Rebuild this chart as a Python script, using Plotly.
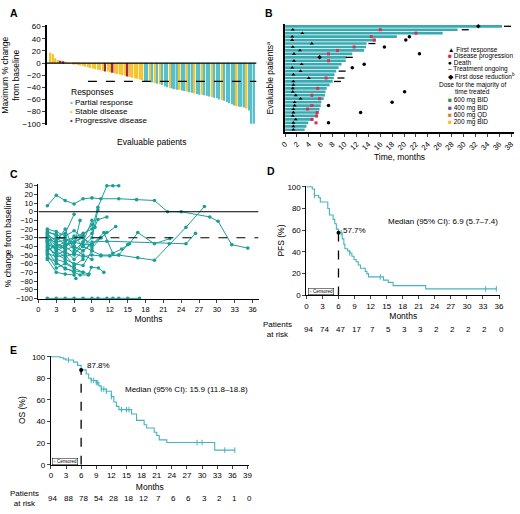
import numpy as np
import plotly.graph_objects as go

FONT = "Liberation Sans, Arial, sans-serif"
W, H = 520, 514

# ---------------- A: best % change from baseline (waterfall)
a_change = [17, 15, 8, 5, 4, 3, 2, 1, 0, -1,
            -2, -3, -4, -5, -6, -7, -8, -9, -10, -11,
            -12, -13, -14, -14, -15, -16, -17, -18, -19, -20,
            -21, -22, -23, -24, -25, -26, -27, -28, -30, -31,
            -31, -32, -33, -34, -35, -36, -38, -40, -41, -42,
            -43, -44, -44, -45, -46, -47, -48, -49, -50, -51,
            -52, -52, -53, -54, -55, -56, -57, -58, -60, -61,
            -62, -64, -66, -68, -70, -71, -72, -72, -73, -75,
            -78, -100, -100]
# R = partial response, S = stable disease, P = progressive disease
a_resp = list("SSSS" "PP" "SSSSSSSSSSSSSSSS" "P" "SS" "P" "SSSSS" "P" "SSSSSS"
              "RRSRSRS" "RRRS" "RRRS" "RRS" "RRS" "RRS" "RRRS" "RRRS" "RRRRRS" "RRRS" "RRR")
resp_codes = ["R", "S", "P"]
resp_labels = ["Partial response", "Stable disease", "Progressive disease"]
resp_colors = ["#55bfca", "#f5c431", "#a3233a"]

# ---------------- B: swimmer plot (rows listed top to bottom)
b_months = [36.5, 29.0, 26.5, 18.8, 15.3, 13.7, 13.6, 13.3, 11.3, 10.3, 10.2,
            9.5, 9.0, 8.6, 8.3, 8.2, 8.0, 7.5, 7.0, 6.8, 6.7, 6.5, 6.1, 6.0,
            5.8, 5.6, 5.5, 4.8, 3.9, 3.6, 3.3]
b_dose = ["g", "g", "g", "p", "g", "y", "g", "p", "g", "g", "p", "g", "g", "g", "p", "g",
          "g", "g", "o", "g", "p", "y", "g", "g", "g", "g", "g", "p", "g", "g", "g"]
dose_codes = ["g", "p", "o", "y"]
dose_labels = ["600 mg BID", "400 mg BID", "600 mg QD", "200 mg BID"]
dose_colors = ["#2f8f3a", "#6a4c9c", "#e07b2a", "#f0c020"]

resp_row = [1, 2, 3, 4, 5, 6, 7, 8, 10, 11, 12, 13, 14, 15, 16, 17, 18, 19, 20,
            21, 22, 23, 24, 25, 26, 27, 28, 29, 30]
resp_t = [1.3, 2.9, 1.2, 1.2, 4.5, 1.3, 2.5, 1.5, 1.5, 2.8, 1.2, 2.6, 1.4, 4.0, 1.4,
          1.4, 1.3, 1.3, 1.8, 2.6, 1.6, 1.6, 1.4, 1.4, 1.3, 1.8, 1.4, 1.4, 1.4]
prog_row = [1, 2, 3, 4, 6, 7, 8, 10, 15, 18, 20, 21, 23, 24, 25, 26, 27, 28]
prog_t = [16.0, 22.0, 14.5, 15.0, 11.6, 8.8, 7.3, 7.3, 6.9, 5.5, 4.5, 5.8, 4.5,
          3.8, 5.4, 5.3, 4.5, 5.2]
death_row = [3, 4, 6, 8, 11, 12, 19, 22, 23, 25, 28]
death_t = [20.9, 20.3, 16.7, 22.6, 13.3, 11.3, 20.1, 18.0, 7.3, 12.7, 7.3]
ongoing_row = [0, 1, 5, 9, 13, 15, 16]
ongoing_t = [37.4, 30.3, 14.6, 10.8, 9.6, 9.4, 8.8]
reduce_row = [0, 9]
reduce_t = [32.5, 5.8]

# ---------------- C: % change over time per patient
c_months = [
    [1.5, 3, 4.5, 6, 7.5, 9, 10.5, 13.5, 16.5, 19.5, 21.7, 24, 28.8, 30.2, 32.5, 35.2],
    [1.5, 3, 4.5, 6, 7.5, 9, 10.5, 13.5, 16.7, 19.5, 24.8, 27.9],
    [1.5, 3, 4.5, 6, 7.5, 9, 10, 11.5, 12.5, 13.5],
    [1.5, 3, 4.5, 6, 7.5, 9, 11, 12.5, 14, 15.3, 16.7, 19.5, 22.1],
    [1.5, 3, 4.5, 6, 7.5, 9, 10.5, 13],
    [1.5, 3, 4.5, 6, 7, 8.4, 8.9, 10.1, 11],
    [1.5, 3, 4.5, 6, 6.3],
    [1.5, 3, 4.5, 6, 7.5, 8.5],
    [1.5, 3, 4.5, 6],
    [1.5, 3, 4.5, 6, 7],
    [1.5, 3, 4.5, 6, 7.5, 9, 9.5],
    [1.5, 3, 4.5, 6, 7.5, 9, 10, 11.5],
    [1.5, 3, 4.5, 6, 7.5, 9],
    [1.5, 3, 4.5, 6, 7.5, 9, 10],
    [1.5, 3, 4.5, 6],
    [1.5, 3, 4.5, 6, 7.5],
    [1.5, 3, 4.5, 6, 7.5, 9, 10.5, 11.5],
    [1.5, 3, 4.5, 6, 7.5, 9],
    [1.5, 3, 4.5, 6, 7.5, 9],
    [1.5, 3, 4.5, 6, 7.5, 9, 10.5, 12, 13.5, 15],
    [1.5, 3, 4.5, 6, 7.5],
    [1.5, 3, 4.5, 6, 7.5, 9, 11.5, 22, 24.8, 26.4],
    [1.5, 3, 4.5, 6, 7.5, 9],
    [1.5, 3, 4.5, 6, 7.5],
    [1.5, 3, 4.5, 6, 7.5, 9, 10, 11.5, 12.5, 13.5, 15, 17],
]
c_change = [
    [7, 19, 13, 9, 15, 16, 15, 15, 14, 13, 0, 0, -6, -11, -38, -42],
    [-35, -45, -40, -48, -40, -45, -50, -50, -53, -56, -18, 6],
    [-30, -40, -42, -30, -25, -20, 5, 30, 30, 30],
    [-25, -35, -33, -35, -38, -38, -24, -48, -43, -37, -24, -37, -31],
    [-40, -50, -45, -55, -45, -38, -30, -17],
    [-45, -60, -65, -70, -73, -73, -64, -65, -70],
    [-55, -70, -72, -73, -77],
    [-50, -65, -60, -65, -70, -72],
    [-22, -28, -25, -3],
    [-28, -32, -30, -40, -10],
    [-32, -35, -20, -45, -35, -10, -18],
    [-38, -42, -48, -50, -35, -25, -9, -6],
    [-42, -48, -55, -60, -62, -45],
    [-27, -38, -40, -28, -40, -30, 2],
    [-36, -55, -58, -65],
    [-48, -52, -50, -62, -55],
    [-33, -30, -38, -35, -30, -42, -30, -24],
    [-24, -26, -33, -30, -28, -15],
    [-44, -40, -35, -42, -50, -55],
    [-30, -45, -52, -48, -52, -50, -51, -51, -50, -38],
    [-53, -58, -66, -68, -70],
    [-46, -36, -44, -40, -45, -35, -34, -37, -37, -25],
    [-20, -23, -28, -22, -30, -38],
    [-34, -43, -38, -36, -28],
    [-100] * 12,
]

# ---------------- D: PFS Kaplan-Meier
pfs_t = [0, 1.1, 1.5, 2.3, 2.6, 4.0, 4.3, 5.0, 5.3, 5.6, 6.0, 6.7, 7.0, 7.2, 7.7,
         8.1, 8.5, 8.9, 9.3, 9.7, 10.1, 11.0, 11.3, 11.6, 14.4, 15.3, 16.2, 22.3, 35.5]
pfs_s = [100, 98, 92, 90, 86, 80, 74, 70, 66, 61, 57.7, 52, 47, 43, 41,
         39, 36, 33, 31, 28, 25, 22, 20, 17, 14, 12, 9, 6, 6]
pfs_cens = [1.5, 6.5, 8.1, 13.8, 33.5, 35.5]
pfs_6mo = 57.7
pfs_risk = [94, 74, 47, 17, 7, 5, 3, 3, 2, 2, 2, 2, 0]
pfs_risk_t = list(range(0, 37, 3))

# ---------------- E: OS Kaplan-Meier
os_t = [0, 1.8, 2.5, 3.0, 4.5, 5.3, 6.0, 7.0, 7.5, 8.0, 9.0, 9.5, 10.0, 11.0,
        12.0, 12.5, 13.0, 13.5, 16.0, 17.0, 18.5, 19.0, 20.5, 21.0, 21.5, 23.0, 32.5, 36.5]
os_s = [100, 99, 98, 97, 95, 92, 87.8, 84, 80, 78, 76, 73, 70, 68,
        63, 58, 54, 51, 47, 41, 37, 34, 30, 27, 23, 20.5, 13.5, 13.5]
os_cens = [3.5, 8.0, 8.5, 9.0, 9.3, 10.0, 10.5, 11.0, 12.0, 14.0, 15.0, 15.5,
           29.0, 30.0, 34.5, 36.5]
os_6mo = 87.8
os_risk = [94, 88, 78, 54, 28, 18, 12, 7, 6, 6, 3, 2, 1, 0]
os_risk_t = list(range(0, 40, 3))

KM = "#45b3c0"
C_COL = "#1b9e97"
B_COL = "#3aa9b0"


def px(x):
    return x / W


def py(y):
    return 1 - y / H


def step_at(times, surv, t):
    i = np.searchsorted(times, t, side="right") - 1
    return np.array(surv)[i]


fig = go.Figure()

# A bars
a_idx = np.arange(len(a_change))
a_arr = np.array(a_change)
a_code = np.array(a_resp)
for code, lab, col in zip(resp_codes, resp_labels, resp_colors):
    m = a_code == code
    fig.add_trace(go.Bar(x=a_idx[m], y=a_arr[m], name=lab, marker_color=col,
                         marker_line_width=0, width=0.62, xaxis="x", yaxis="y"))

# B bars and events
n_rows = len(b_months)
rows_y = n_rows - np.arange(n_rows)
fig.add_trace(go.Bar(x=b_months, y=rows_y, orientation="h", marker_color=B_COL,
                     marker_line_width=0, width=0.78, xaxis="x2", yaxis="y2"))
b_dose_arr = np.array(b_dose)
for code, col in zip(dose_codes, dose_colors):
    m = b_dose_arr == code
    fig.add_trace(go.Scatter(x=[-0.75] * int(m.sum()), y=rows_y[m], mode="markers",
                             marker=dict(symbol="square", size=3, color=col),
                             cliponaxis=False, xaxis="x2", yaxis="y2"))


def ev(rows, ts, **mk):
    fig.add_trace(go.Scatter(x=ts, y=rows_y[np.array(rows)], mode="markers", marker=mk,
                             cliponaxis=False, xaxis="x2", yaxis="y2"))


ev(resp_row, resp_t, symbol="triangle-up", size=3.5, color="black")
ev(prog_row, prog_t, symbol="square", size=3, color="#d9304a")
ev(death_row, death_t, symbol="circle", size=3.5, color="black")
ev(ongoing_row, ongoing_t, symbol="line-ew", size=5, line=dict(width=1.3, color="black"))
ev(reduce_row, reduce_t, symbol="diamond", size=3.5, color="black")

# C trajectories
for ms, vs in zip(c_months, c_change):
    fig.add_trace(go.Scatter(x=ms, y=vs, mode="lines+markers",
                             line=dict(color=C_COL, width=1),
                             marker=dict(color=C_COL, size=3.6),
                             cliponaxis=False, xaxis="x3", yaxis="y3"))

# D and E KM curves
for xa, ya, t, s, cens, lm in [("x4", "y4", pfs_t, pfs_s, pfs_cens, pfs_6mo),
                               ("x5", "y5", os_t, os_s, os_cens, os_6mo)]:
    fig.add_trace(go.Scatter(x=t, y=s, mode="lines", line=dict(color=KM, width=1.1, shape="hv"),
                             xaxis=xa, yaxis=ya))
    fig.add_trace(go.Scatter(x=cens, y=step_at(t, s, cens), mode="markers",
                             marker=dict(symbol="line-ns", size=4, line=dict(width=1, color=KM)),
                             xaxis=xa, yaxis=ya))
    fig.add_trace(go.Scatter(x=[6, 6], y=[0, lm], mode="lines",
                             line=dict(color="black", width=1.3, dash="dash"),
                             xaxis=xa, yaxis=ya))
    fig.add_trace(go.Scatter(x=[6], y=[lm], mode="markers",
                             marker=dict(color="black", size=4),
                             xaxis=xa, yaxis=ya))

ax = dict(showline=True, linecolor="black", linewidth=1, ticks="outside", ticklen=3,
          tickwidth=1, showgrid=False, zeroline=False,
          tickfont=dict(size=8, family=FONT, color="black"))
tfont = dict(size=8.5, family=FONT, color="black")
small = dict(size=7.5, family=FONT, color="black")

fig.update_layout(
    width=W, height=H, margin=dict(l=0, r=0, t=0, b=0),
    paper_bgcolor="white", plot_bgcolor="white", showlegend=False,
    font=dict(family=FONT, color="black"), bargap=0.35,
    xaxis=dict(ax, anchor="y", domain=[px(42.7), px(256)], range=[-1.5, 83], showline=False,
               ticks="", showticklabels=False,
               title=dict(text="Evaluable patients", font=tfont, standoff=14)),
    yaxis=dict(ax, anchor="x", domain=[py(123.9), py(22.8)], range=[-102, 62], dtick=20,
               linewidth=1.5,
               title=dict(text="Maximum % change<br>from baseline", font=tfont, standoff=4)),
    xaxis2=dict(ax, anchor="y2", domain=[px(285), px(518)], range=[0, 38.5], dtick=2,
                tickangle=-45, linewidth=1.5, tickfont=small,
                title=dict(text="Time, months", font=tfont, standoff=2)),
    yaxis2=dict(ax, anchor="x2", domain=[py(131.2), py(21.2)], range=[0.3, 31.7], ticks="",
                showticklabels=False, linewidth=2,
                title=dict(text="Evaluable patients<sup>a</sup>", font=tfont, standoff=8)),
    xaxis3=dict(ax, anchor="y3", domain=[px(34), px(258)], range=[0, 37], dtick=3,
                tickfont=small, title=dict(text="Months", font=tfont, standoff=2)),
    yaxis3=dict(ax, anchor="x3", domain=[py(300.9), py(183.9)], range=[-101, 32], dtick=10,
                tickfont=small,
                title=dict(text="% change from baseline", font=tfont, standoff=3)),
    xaxis4=dict(ax, anchor="y4", domain=[px(306.7), px(503.8)], range=[0, 36.2], dtick=3,
                title=dict(text="Months", font=tfont, standoff=0)),
    yaxis4=dict(ax, anchor="x4", domain=[py(297), py(185.6)], range=[0, 101], dtick=20,
                title=dict(text="PFS (%)", font=tfont, standoff=1)),
    xaxis5=dict(ax, anchor="y5", domain=[px(46.7), px(248)], range=[0, 39.25], dtick=3,
                title=dict(text="Months", font=tfont, standoff=4)),
    yaxis5=dict(ax, anchor="x5", domain=[py(469), py(358.2)], range=[0, 101], dtick=20,
                title=dict(text="OS (%)", font=tfont, standoff=4)),
)

# reference lines
fig.add_shape(type="line", xref="x", yref="y", x0=-1.5, x1=83, y0=0, y1=0,
              line=dict(color="black", width=1.2))
fig.add_shape(type="line", xref="x", yref="y", x0=15, x1=83, y0=-30, y1=-30,
              line=dict(color="black", width=1.2, dash="dash"))
fig.add_shape(type="line", xref="x3", yref="y3", x0=0, x1=37, y0=0, y1=0,
              line=dict(color="black", width=1))
fig.add_shape(type="line", xref="x3", yref="y3", x0=0, x1=37, y0=-30, y1=-30,
              line=dict(color="black", width=1.2, dash="dash"))

ann = []


def note(x, y, text, size=8, xanchor="left", yanchor="middle", **kw):
    ann.append(dict(x=px(x), y=py(y), xref="paper", yref="paper", text=text,
                    showarrow=False, xanchor=xanchor, yanchor=yanchor,
                    font=dict(size=size, family=FONT, color="black"), **kw))


for letter, (lx, ly) in zip("ABCDE", [(3, 2), (263, 2), (3, 166), (265, 163), (3, 344)]):
    note(lx, ly, "<b>%s</b>" % letter, size=10.5, yanchor="top")

# A legend
note(65, 90, "Responses", size=8.5)
for i, (lab, col) in enumerate(zip(resp_labels, resp_colors)):
    note(64, 101.5 + i * 8.7, "<span style='color:%s'>•</span> %s" % (col, lab), size=8)

# B legend
b_items = [("▲", "black", "First response"), ("■", "#d9304a", "Disease progression"),
           ("●", "black", "Death"), ("–", "black", "Treatment ongoing"),
           ("◆", "black", "First dose reduction<sup>b</sup>")]
for i, (sym, col, lab) in enumerate(b_items):
    note(449, 47.7 + i * 6.6, "<span style='color:%s'>%s</span> %s" % (col, sym, lab), size=6.5)
note(476, 83.3, "Dose for the majority of", size=6.5, xanchor="center")
note(476, 90.2, "time treated", size=6.5, xanchor="center")
for i, (lab, col) in enumerate(zip(dose_labels, dose_colors)):
    note(449, 99 + i * 7.4, "<span style='color:%s'>■</span> %s" % (col, lab), size=6.5)

# D annotations
ann.append(dict(x=6, y=pfs_6mo, xref="x4", yref="y4", text="%.1f%%" % pfs_6mo,
                showarrow=False, xanchor="left", yanchor="bottom", xshift=3, yshift=-4,
                font=dict(size=8, family=FONT, color="black")))
note(446, 222, "Median (95% CI): 6.9 (5.7–7.4)", size=8, xanchor="center")
note(308, 293.5, "<span style='color:%s'>+</span> Censored" % KM, size=4.5,
     bordercolor="black", borderwidth=0.5, borderpad=0.5)
note(277, 331.5, "Patients<br>at risk", size=8, xanchor="center")
for t, n in zip(pfs_risk_t, pfs_risk):
    ann.append(dict(x=t, y=py(332), xref="x4", yref="paper", text=str(n), showarrow=False,
                    xanchor="center", yanchor="middle", xshift=2,
                    font=dict(size=8, family=FONT, color="black")))

# E annotations
ann.append(dict(x=6, y=os_6mo, xref="x5", yref="y5", text="%.1f%%" % os_6mo,
                showarrow=False, xanchor="left", yanchor="middle", xshift=4, yshift=4,
                font=dict(size=8, family=FONT, color="black")))
note(185, 393, "Median (95% CI): 15.9 (11.8–18.8)", size=8, xanchor="center")
note(48, 465.5, "<span style='color:%s'>+</span> Censored" % KM, size=4.5,
     bordercolor="black", borderwidth=0.5, borderpad=0.5)
note(20, 503, "Patients<br>at risk", size=8, xanchor="center")
for t, n in zip(os_risk_t, os_risk):
    ann.append(dict(x=t, y=py(503), xref="x5", yref="paper", text=str(n), showarrow=False,
                    xanchor="center", yanchor="middle", xshift=2,
                    font=dict(size=8, family=FONT, color="black")))

fig.update_layout(annotations=ann)
# the page body has a default 8px margin; drop it so the figure fills the window
fig.write_html("out.html", config={"displayModeBar": False},
               post_script="document.body.style.margin='0';")
